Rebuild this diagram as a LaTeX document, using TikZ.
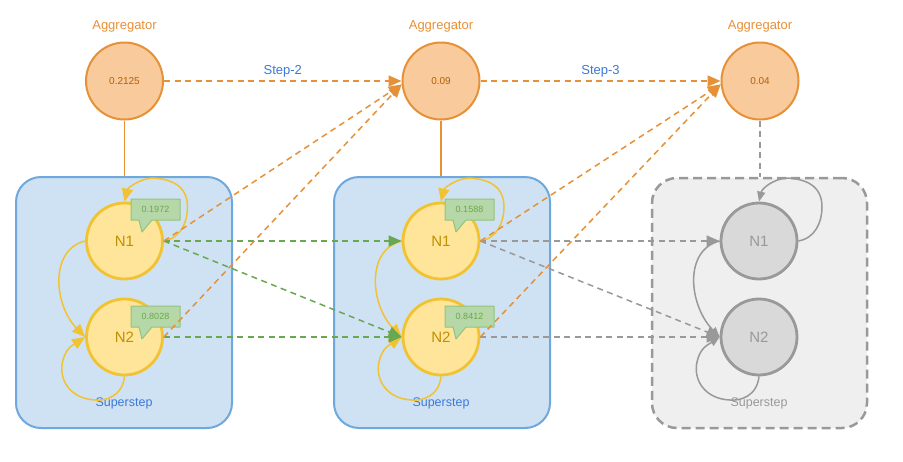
\documentclass[tikz,border=0pt]{standalone}
\usepackage{fontspec}
\setmainfont{Liberation Sans}
\usetikzlibrary{arrows.meta,calc}
\definecolor{orng}{HTML}{E69138}
\definecolor{orfill}{HTML}{F9CB9C}
\definecolor{ortext}{HTML}{B45F06}
\definecolor{ylw}{HTML}{F1C232}
\definecolor{ylfill}{HTML}{FFE599}
\definecolor{ntext}{HTML}{BF9000}
\definecolor{bluestroke}{HTML}{6FA8DC}
\definecolor{bluefill}{HTML}{CFE2F3}
\definecolor{bluetext}{HTML}{3C78D8}
\definecolor{grn}{HTML}{6AA84F}
\definecolor{cfill}{HTML}{B6D7A8}
\definecolor{cstroke}{HTML}{93C47D}
\definecolor{ctext}{HTML}{6AA84F}
\definecolor{gry}{HTML}{999999}
\definecolor{gfill}{HTML}{D9D9D9}
\definecolor{gboxfill}{HTML}{EFEFEF}
\tikzset{
  box/.style={draw=bluestroke,fill=bluefill,line width=2pt,rounded corners=25pt,
    minimum width=216pt,minimum height=251pt,inner sep=0pt},
  graybox/.style={draw=gry,fill=gboxfill,line width=2.5pt,rounded corners=25pt,
    dash pattern=on 9pt off 5pt,minimum width=215pt,minimum height=250pt,inner sep=0pt},
  agg/.style={circle,draw=orng,fill=orfill,line width=2pt,minimum size=77pt,inner sep=0pt,
    text=ortext,font=\fontsize{10}{12}\selectfont},
  agglabel/.style={text=orng,font=\fontsize{13}{15}\selectfont,inner sep=0pt},
  nd/.style={circle,draw=ylw,fill=ylfill,line width=2.8pt,minimum size=76pt,inner sep=0pt,
    text=ntext,font=\fontsize{15}{17}\selectfont},
  gnd/.style={circle,draw=gry,fill=gfill,line width=2.8pt,minimum size=76pt,inner sep=0pt,
    text=gry,font=\fontsize{15}{17}\selectfont},
  sslabel/.style={text=bluetext,font=\fontsize{12.5}{14}\selectfont,inner sep=0pt},
  gsslabel/.style={text=gry,font=\fontsize{12.5}{14}\selectfont,inner sep=0pt},
  steplabel/.style={text=bluetext,font=\fontsize{13}{15}\selectfont,inner sep=0pt},
  arr/.style={-{Triangle[length=13pt,width=11pt]}},
  sarr/.style={-{Triangle[length=10pt,width=8pt]}},
  oedge/.style={draw=orng,line width=1.5pt,dash pattern=on 6pt off 4.5pt,arr},
  gedge/.style={draw=grn,line width=1.5pt,dash pattern=on 6pt off 4.5pt,arr},
  yedge/.style={draw=gry,line width=1.5pt,dash pattern=on 6pt off 4.5pt,arr},
  oline/.style={draw=orng,line width=1.5pt},
  gline/.style={draw=gry,line width=1.5pt,dash pattern=on 6pt off 4.5pt},
  yloop/.style={draw=ylw,line width=1.5pt,arr},
  gloop/.style={draw=gry,line width=1.5pt,sarr},
  pics/callout/.style={code={
    \path[fill=cfill,draw=cstroke,line width=1pt,line join=round]
      (-24.5,-10.5) -- (24.5,-10.5) -- (24.5,10.5) -- (-3.5,10.5) -- (-13.5,22.5)
      -- (-16.5,10.5) -- (-24.5,10.5) -- cycle;
    \node[text=ctext,font=\fontsize{9}{10}\selectfont,inner sep=0pt] (-t) {#1};
  }},
}
\begin{document}
\begin{tikzpicture}[x=1pt,y=-1pt]
\useasboundingbox[fill=white] (0,0) rectangle (903,461);

% superstep boxes
\node[box] (box1) at (124,302.5) {};
\node[box] (box2) at (442,302.5) {};
\node[graybox] (box3) at (759.5,303) {};
\node[sslabel] (ss1) at (124,403) {Superstep};
\node[sslabel] (ss2) at (441,403) {Superstep};
\node[gsslabel] (ss3) at (759,403) {Superstep};

% aggregators
\node[agg] (a1) at (124.5,81) {0.2125};
\node[agg] (a2) at (441,81) {0.09};
\node[agg] (a3) at (760,81) {0.04};
\node[agglabel] (l1) at (124.5,26.5) {Aggregator};
\node[agglabel] (l2) at (441,26.5) {Aggregator};
\node[agglabel] (l3) at (760,26.5) {Aggregator};

% vertices
\node[nd] (b1n1) at (124.5,241) {N1};
\node[nd] (b1n2) at (124.5,337) {N2};
\node[nd] (b2n1) at (441,241) {N1};
\node[nd] (b2n2) at (441,337) {N2};
\node[gnd] (b3n1) at (759,241) {N1};
\node[gnd] (b3n2) at (759,337) {N2};

% aggregator to superstep
\draw[oline] (a1.south) -- (a1.south |- box1.north);
\draw[oline] (a2.south) -- (a2.south |- box2.north);
\draw[gline] (a3.south) -- (a3.south |- box3.north);

% internal loops
\foreach \n/\m/\st in {b1n1/b1n2/yloop,b2n1/b2n2/yloop,b3n1/b3n2/gloop}{
  \draw[\st] (\n.east) .. controls +(17,-3) and +(0,15) .. ($(\n)+(63,-34)$)
     .. controls +(0,-22) and +(18,1) .. ($(\n)+(28,-63)$)
     .. controls +(-14,1) and +(3,-13) .. (\n.north);
  \draw[\st] (\n.west) .. controls +(-36,9) and +(-31,-32) .. (\m.west);
  \draw[\st] (\m.south) .. controls +(-2,20) and +(10,1) .. ($(\m)+(-29,63)$)
     .. controls +(-25,-1) and +(-4,18) .. ($(\m)+(-62,25)$)
     .. controls +(3,-14) and +(-12,8) .. (\m.west);
}

% callouts
\pic (c1) at (155.5,209.5) {callout=0.1972};
\pic (c2) at (155.5,316.5) {callout=0.8028};
\pic (c3) at (469.5,209.5) {callout=0.1588};
\pic (c4) at (469.5,316.5) {callout=0.8412};

% message edges
\draw[gedge] (b1n1.east) -- (b2n1.west);
\draw[gedge] (b1n1.east) -- (b2n2.west);
\draw[gedge] (b1n2.east) -- (b2n2.west);
\draw[yedge] (b2n1.east) -- (b3n1.west);
\draw[yedge] (b2n1.east) -- (b3n2.west);
\draw[yedge] (b2n2.east) -- (b3n2.west);

% aggregation edges
\draw[oedge] (b1n1.east) -- (a2.185);
\draw[oedge] (b1n2.east) -- (a2.185);
\draw[oedge] (b2n1.east) -- (a3.185);
\draw[oedge] (b2n2.east) -- (a3.185);
\draw[oedge] (a1) -- node[steplabel,midway,yshift=10pt] {Step-2} (a2);
\draw[oedge] (a2) -- node[steplabel,midway,yshift=10pt] {Step-3} (a3);
\end{tikzpicture}
\end{document}
